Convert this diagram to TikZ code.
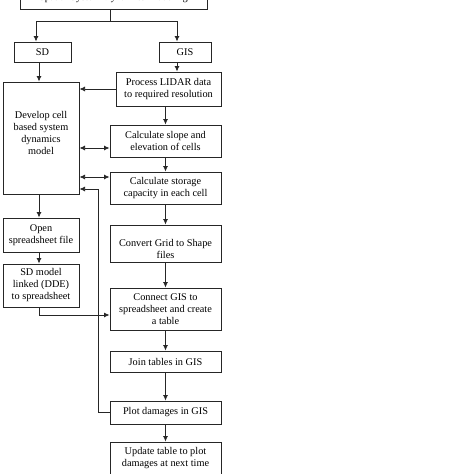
\documentclass[tikz,border=0pt]{standalone}
\usepackage{fontspec}
\setmainfont{Liberation Serif}
\usetikzlibrary{arrows.meta}
\begin{document}
\begin{tikzpicture}[x=1pt,y=-1pt,
  box/.style={draw=black!85,line width=1pt,inner sep=0pt,align=center,
    font=\fontsize{10.3}{12}\selectfont},
  txt/.style={inner sep=0pt,align=center,font=\fontsize{10.3}{12}\selectfont},
  arr/.style={draw=black!85,line width=0.75pt,-{Latex[length=5.5pt,width=5pt]}},
  dbl/.style={draw=black!85,line width=0.75pt,{Latex[length=5.5pt,width=5pt]}-{Latex[length=5.5pt,width=5pt]}},
  ln/.style={draw=black!85,line width=0.75pt}]
\fill[white] (0,0) rectangle (474,474);
\useasboundingbox (0,0) rectangle (474,474);
% boxes
\node[box,minimum width=187pt,minimum height=29pt] (top) at (113.5,-5.5) {};
\node[txt] (toptxt) at (113.5,-1.5) {Spatial System Dynamics Modeling};
\node[box,minimum width=57pt,minimum height=20pt] (SD) at (42.5,52) {SD};
\node[box,minimum width=52pt,minimum height=20pt] (GIS) at (185,52) {GIS};
\node[box,minimum width=105pt,minimum height=34pt] (Process) at (168.5,89) {Process LIDAR data\\to required resolution};
\node[box,minimum width=76pt,minimum height=112pt] (Develop) at (41,138) {};
\node[txt] (devtxt) at (41,132.5) {Develop cell\\based system\\dynamics\\model};
\node[box,minimum width=111pt,minimum height=32pt] (Slope) at (165.5,141) {Calculate slope and\\elevation of cells};
\node[box,minimum width=111pt,minimum height=32pt] (Storage) at (165.5,188) {Calculate storage\\capacity in each cell};
\node[box,minimum width=111pt,minimum height=37pt] (Convert) at (165.5,243.5) {};
\node[txt] (convtxt) at (165.5,249) {Convert Grid to Shape\\files};
\node[box,minimum width=111pt,minimum height=42pt] (Connect) at (165.5,309) {Connect GIS to\\spreadsheet and create\\a table};
\node[box,minimum width=111pt,minimum height=21pt] (Join) at (165.5,361.5) {Join tables in GIS};
\node[box,minimum width=111pt,minimum height=23pt] (Plot) at (165.5,412.5) {Plot damages in GIS};
\node[box,minimum width=111pt,minimum height=32pt] (Update) at (165.5,458) {Update table to plot\\damages at next time};
\node[box,minimum width=76pt,minimum height=34pt] (Open) at (41,235) {Open\\spreadsheet file};
\node[box,minimum width=76pt,minimum height=43pt] (SDmodel) at (41,285.5) {SD model\\linked (DDE)\\to spreadsheet};
% connectors
\coordinate (j) at (110,21);
\coordinate (fb) at (98,189);
\draw[ln] (top.south -| j) -- (j);
\draw[arr] (j) -| ([xshift=-6.5pt]SD.north);
\draw[arr] (j) -| ([xshift=-8pt]GIS.north);
\draw[arr] ([xshift=-3.5pt]SD.south) -- ([xshift=-3.5pt]SD.south |- Develop.north);
\draw[arr] ([xshift=-8pt]GIS.south) -- ([xshift=-8pt]GIS.south |- Process.north);
\draw[arr] (Process.west) -- (Process.west -| Develop.east);
\draw[arr] (Process.south -| Slope.north) -- (Slope.north);
\draw[dbl] ([yshift=-7pt]Slope.west) -- ([yshift=-7pt]Slope.west -| Develop.east);
\draw[arr] (Slope.south) -- (Storage.north);
\draw[dbl] ([yshift=11pt]Storage.west) -- ([yshift=11pt]Storage.west -| Develop.east);
\draw[arr] (Storage.south) -- (Convert.north);
\draw[arr] (Convert.south) -- (Connect.north);
\draw[arr] (Connect.south) -- (Join.north);
\draw[arr] (Join.south) -- (Plot.north);
\draw[arr] (Plot.south) -- (Update.north);
\draw[arr] (Plot.west) -| (fb) -- (fb -| Develop.east);
\draw[arr] ([xshift=-2pt]Develop.south) -- ([xshift=-2pt]Open.north);
\draw[arr] ([xshift=-2pt]Open.south) -- ([xshift=-2pt]SDmodel.north);
\draw[arr] ([xshift=-2pt]SDmodel.south) |- ([yshift=-6pt]Connect.west);
\end{tikzpicture}
\end{document}
